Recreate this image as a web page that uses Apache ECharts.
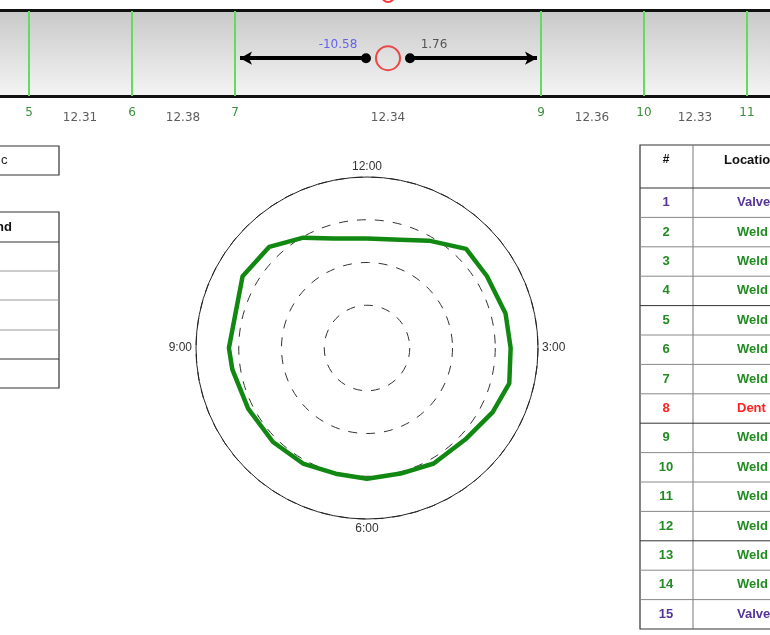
<!DOCTYPE html>
<html>
<head>
<meta charset="utf-8">
<script src="https://cdn.jsdelivr.net/npm/echarts@6/dist/echarts.min.js"></script>
<style>html,body{margin:0;padding:0;background:#fff;}#main{width:770px;height:635px;}</style>
</head>
<body>
<div id="main"></div>
<script>
// girth welds along the strip (axis units = strip position)
var weldNames = ['5', '6', '7', '9', '10', '11'];
var weldPos = [29, 132, 235, 541, 644, 747];
var jointLengths = ['12.31', '12.38', '12.34', '12.36', '12.33'];
var jointPos = [80, 183, 388, 592, 695];
var distLeft = '-10.58';
var distRight = '1.76';

// ovality profile: [radius, clock angle in degrees]
var profileR = [2.56, 2.65, 2.90, 3.28, 3.27, 3.34, 3.36, 3.43, 3.30, 3.14, 3.12, 3.04, 3.06, 3.03, 3.09, 3.11, 3.12, 3.19, 3.23, 3.36, 3.29, 2.98, 2.68, 2.56];
var profileA = [0, 17, 30, 45, 59, 76, 90, 104, 117, 133, 150, 165, 180, 194, 209, 225, 243, 261, 270, 300, 316, 330, 343, 360];
var clockLabels = {0: '12:00', 90: '3:00', 180: '6:00', 270: '9:00'};

// feature table
var rowNums = ['1','2','3','4','5','6','7','8','9','10','11','12','13','14','15'];
var rowTypes = ['Valve','Weld','Weld','Weld','Weld','Weld','Weld','Dent','Weld','Weld','Weld','Weld','Weld','Weld','Valve'];
var typeColors = {Valve: '#553399', Weld: '#228b22', Dent: '#ff2222'};

function txt(x, y, s, opt) {
	return {type: 'text', style: echarts.util.extend({x: x, y: y, text: s, verticalAlign: 'middle',
		fontSize: 13, fontFamily: 'Liberation Sans', fill: '#222'}, opt || {})};
}

var graphics = [];
// strip background
graphics.push({type: 'rect', z: -1, shape: {x: 0, y: 11, width: 770, height: 85},
	style: {fill: new echarts.graphic.LinearGradient(0, 0, 0, 1, [{offset: 0, color: '#c9c9c9'}, {offset: 1, color: '#f4f4f4'}])}});
graphics.push({type: 'rect', shape: {x: -5, y: 9, width: 780, height: 3}, style: {fill: '#111'}});
graphics.push({type: 'rect', shape: {x: -5, y: 95, width: 780, height: 3}, style: {fill: '#111'}});
graphics.push({type: 'circle', shape: {cx: 388, cy: -4, r: 6}, style: {fill: 'none', stroke: '#ff3333', lineWidth: 2}});

// left tables (clipped)
graphics.push({type: 'rect', shape: {x: -10, y: 146, width: 69, height: 29}, style: {fill: 'none', stroke: '#333', lineWidth: 1.2}});
graphics.push(txt(-2, 160, 'ic'));
graphics.push({type: 'rect', shape: {x: -10, y: 212, width: 69, height: 176}, style: {fill: 'none', stroke: '#333', lineWidth: 1.2}});
graphics.push(txt(-4, 227, 'nd', {fontWeight: 'bold', fill: '#111'}));
[242, 271, 300, 330, 359].forEach(function (y) {
	graphics.push({type: 'line', shape: {x1: -10, y1: y, x2: 59, y2: y}, style: {stroke: y === 242 || y === 359 ? '#333' : '#999', lineWidth: 1}});
});

// right table
var tTop = 145, hdr = 43, rowH = 29.4;
graphics.push({type: 'rect', shape: {x: 640, y: tTop, width: 140, height: hdr + rowH * 15}, style: {fill: 'none', stroke: '#333', lineWidth: 1.2}});
graphics.push({type: 'line', shape: {x1: 693, y1: tTop, x2: 693, y2: tTop + hdr + rowH * 15}, style: {stroke: '#777', lineWidth: 1}});
graphics.push(txt(666, 160, '#', {align: 'center', fontWeight: 'bold', fontSize: 12, fill: '#111'}));
graphics.push(txt(724, 160, 'Location', {fontWeight: 'bold', fill: '#111'}));
for (var i = 0; i < rowNums.length; i++) {
	var y0 = tTop + hdr + rowH * i;
	graphics.push({type: 'line', shape: {x1: 640, y1: y0, x2: 780, y2: y0}, style: {stroke: (i % 4 === 0) ? '#333' : '#888', lineWidth: 1}});
	var c = typeColors[rowTypes[i]];
	graphics.push(txt(666, y0 + rowH / 2, rowNums[i], {align: 'center', fontWeight: 'bold', fill: c}));
	graphics.push(txt(737, y0 + rowH / 2, rowTypes[i], {fontWeight: 'bold', fill: c}));
}

var profile = profileR.map(function (r, k) { return [r, profileA[k]]; });

var myChart = echarts.init(document.getElementById('main'));
var option = {
	animation: false,
	graphic: graphics,
	grid: {left: 0, right: 0, top: 11, height: 85},
	xAxis: {type: 'value', min: 0, max: 770, show: false},
	yAxis: {type: 'value', min: 0, max: 10, show: false},
	polar: {center: [367, 348], radius: 171},
	angleAxis: {
		type: 'value', min: 0, max: 360, interval: 90, startAngle: 90, clockwise: true,
		axisLine: {lineStyle: {color: '#222', width: 1}},
		axisTick: {show: false}, splitLine: {show: false},
		axisLabel: {margin: 4, color: '#333', fontSize: 12, fontFamily: 'Liberation Sans',
			formatter: function (v) { return v === 360 ? '' : clockLabels[v]; }}
	},
	radiusAxis: {
		min: 0, max: 4, interval: 1,
		axisLine: {show: false}, axisTick: {show: false}, axisLabel: {show: false},
		splitLine: {lineStyle: {color: '#333', type: [9, 9], width: 1}}
	},
	series: [
		{
			type: 'line', coordinateSystem: 'polar', data: profile, symbol: 'none', smooth: false,
			lineStyle: {color: '#118811', width: 4.5}
		},
		{
			// weld markers and joint lengths along the strip
			type: 'scatter', symbolSize: 0, silent: true,
			data: jointPos.map(function (x, k) { return {value: [x, 0], name: jointLengths[k]}; }),
			label: {show: true, position: 'bottom', distance: 16, formatter: '{b}', color: '#333', fontSize: 12, fontFamily: 'DejaVu Sans'},
			markLine: {
				symbol: 'none', silent: true,
				lineStyle: {color: '#5fdd5f', type: 'solid', width: 2},
				label: {position: 'start', distance: 11, color: '#3a8f3a', fontSize: 12, fontFamily: 'DejaVu Sans', formatter: '{b}'},
				data: weldPos.map(function (x, k) { return {xAxis: x, name: weldNames[k]}; })
			}
		},
		{
			// distance arrows to nearest welds
			type: 'line', silent: true, data: [],
			markLine: {
				silent: true, symbolSize: [10, 12], label: {show: false},
				lineStyle: {color: '#000', type: 'solid', width: 4},
				data: [
					[{coord: [366, 4.45], symbol: 'circle'}, {coord: [240, 4.45], symbol: 'arrow'}],
					[{coord: [410, 4.45], symbol: 'circle'}, {coord: [537, 4.45], symbol: 'arrow'}]
				]
			}
		},
		{
			type: 'scatter', symbolSize: 0, silent: true,
			data: [{value: [338, 6], name: distLeft, label: {color: '#4444ee'}}, {value: [434, 6], name: distRight}],
			label: {show: true, position: 'inside', formatter: '{b}', color: '#333', fontSize: 12, fontFamily: 'DejaVu Sans'}
		},
		{
			type: 'scatter', data: [[388, 4.45]], symbol: 'circle', symbolSize: 24, silent: true,
			itemStyle: {color: 'rgba(0,0,0,0)', borderColor: '#ee2222', borderWidth: 2}
		}
	]
};
myChart.setOption(option);
window.onresize = function () { myChart.resize(); };
</script>
</body>
</html>
